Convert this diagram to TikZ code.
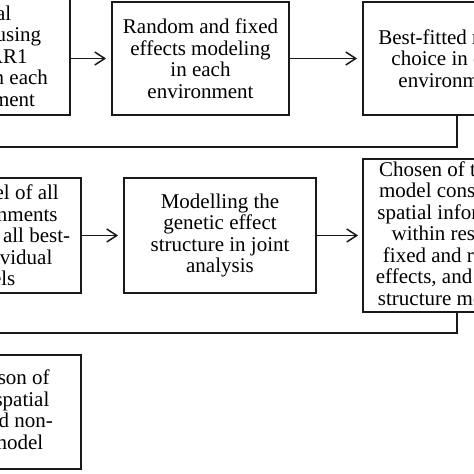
\documentclass[tikz,border=0pt]{standalone}
\usepackage{fontspec}
\setmainfont{Liberation Serif}
\usetikzlibrary{arrows.meta}
\tikzset{
  stepbox/.style={draw=black!90, line width=1.8pt, align=center, inner sep=0pt,
    font=\fontsize{21}{21.5}\selectfont, text=black},
  arr/.style={line width=1.5pt, draw=black!90, -{Straight Barb[length=10pt,width=13pt,line width=1.5pt]}},
  link/.style={line width=1.8pt, draw=black!90}
}
\begin{document}
\begin{tikzpicture}[x=1pt,y=-1pt]
\useasboundingbox (0,0) rectangle (474,474);
\clip (0,0) rectangle (474,474);
\fill[white] (0,0) rectangle (474,474);
% row 1
\node[stepbox, minimum width=176pt, minimum height=118pt] (a1) at (-18,56)
  {Spatial\\analysis using\\AR1×AR1\\residual in each\\environment};
\node[stepbox, minimum width=177pt, minimum height=113pt] (a2) at (200.5,58.5)
  {Random and fixed\\effects modeling\\in each\\environment};
\node[stepbox, minimum width=177pt, minimum height=113pt] (a3) at (451.5,58.5)
  {Best-fitted model\\choice in each\\environment};
% row 2
\node[stepbox, minimum width=192pt, minimum height=115pt] (b1) at (-15,235.5)
  {Joint model of all\\the environments\\considering all best-\\fitted individual\\models};
\node[stepbox, minimum width=192pt, minimum height=115pt] (b2) at (220,235.5)
  {Modelling the\\genetic effect\\structure in joint\\analysis};
\node[stepbox, minimum width=188pt, minimum height=153pt] (b3) at (457,235.5)
  {Chosen of the best\\model considering\\spatial information\\within residual,\\fixed and random\\effects, and genetic\\structure modeling};
% row 3
\node[stepbox, minimum width=188pt, minimum height=114pt] (c1) at (-13,412)
  {Comparison of\\the best spatial\\model and non-\\spatial model};
% arrows in rows
\draw[arr] (a1.east |- a2.west) -- ([xshift=-5pt]a2.west);
\draw[arr] (a2.east) -- ([xshift=-5pt]a3.west);
\draw[arr] (b1.east) -- ([xshift=-5pt]b2.west);
\draw[arr] (b2.east) -- ([xshift=-4pt]b3.west);
% loop connectors
\coordinate (k1) at (457,147);
\coordinate (l1) at (-60,147);
\draw[link] (a3.south -| k1) -- (k1) -- (l1);
\draw[arr] (l1) -- (l1 |- b1.north);
\coordinate (k2) at (457,333);
\coordinate (l2) at (-60,333);
\draw[link] (b3.south -| k2) -- (k2) -- (l2);
\draw[arr] (l2) -- (l2 |- c1.north);
\end{tikzpicture}
\end{document}
